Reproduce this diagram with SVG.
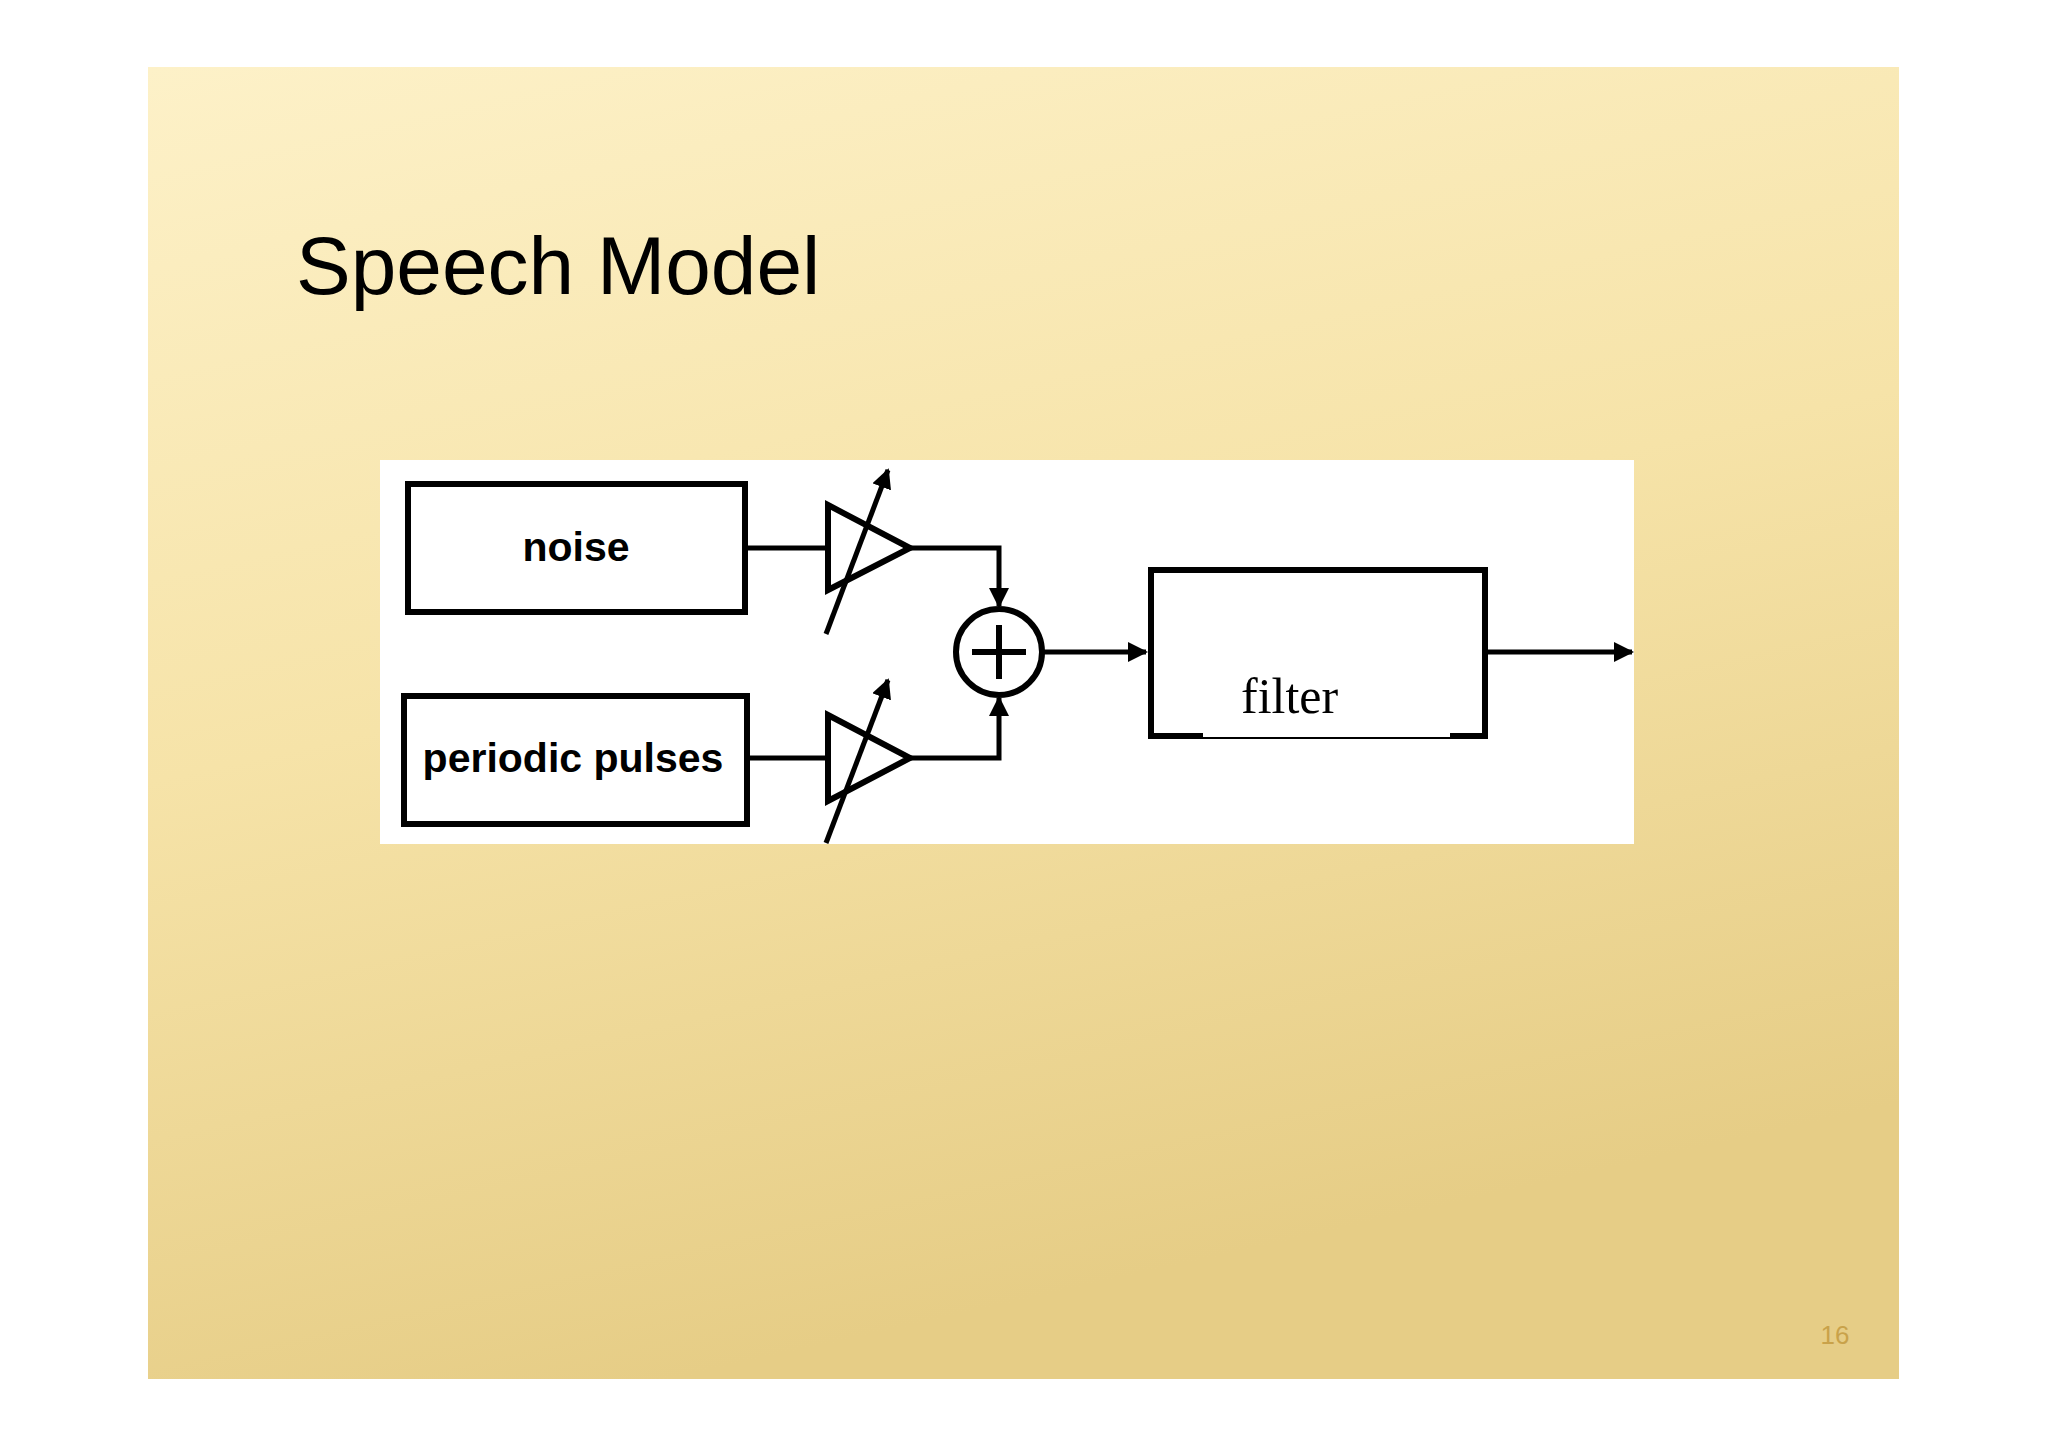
<svg xmlns="http://www.w3.org/2000/svg" width="2048" height="1447" viewBox="0 0 2048 1447">
<defs>
<linearGradient id="bg" x1="0" y1="0" x2="0.3" y2="1">
<stop offset="0" stop-color="#fdf1c8"/><stop offset="0.5" stop-color="#f6e3a8"/><stop offset="1" stop-color="#e6cd86"/>
</linearGradient>
<marker id="ah" viewBox="0 0 10 10" refX="9" refY="5" markerWidth="4" markerHeight="4" orient="auto"><path d="M0,0 L10,5 L0,10 z" fill="#000"/></marker>
</defs>
<style>
.s{fill:none;stroke:#000;stroke-width:6}
.w{fill:none;stroke:#000;stroke-width:5}
.b{font-family:"Liberation Sans",Arial,sans-serif;font-weight:bold;font-size:41px;text-anchor:middle}
</style>
<rect width="2048" height="1447" fill="#fff"/>
<rect x="148" y="67" width="1751" height="1312" fill="url(#bg)"/>
<text x="296" y="294" font-family="Liberation Sans,Arial,sans-serif" font-size="82" fill="#000">Speech Model</text>
<text x="1835" y="1344" font-family="Liberation Sans,Arial,sans-serif" font-size="26" fill="#c9a24a" text-anchor="middle">16</text>
<rect x="380" y="460" width="1254" height="384" fill="#fff"/>
<g id="noise"><rect class="s" x="408" y="484" width="337" height="128"/><text class="b" x="576" y="561">noise</text></g>
<g id="pulses"><rect class="s" x="404" y="696" width="343" height="128"/><text class="b" x="573" y="772">periodic pulses</text></g>
<g id="amp1"><path class="s" d="M828,505 L910,548 L828,590 Z"/><line class="w" x1="826" y1="634" x2="888" y2="470" marker-end="url(#ah)"/></g>
<g id="amp2"><path class="s" d="M828,715 L910,758 L828,801 Z"/><line class="w" x1="826" y1="843" x2="888" y2="680" marker-end="url(#ah)"/></g>
<g id="sum"><circle class="s" cx="999" cy="652" r="43"/><line class="s" x1="972" y1="652" x2="1026" y2="652"/><line class="s" x1="999" y1="625" x2="999" y2="679"/></g>
<g id="filter"><path class="s" d="M1203,736 L1151,736 L1151,570 L1485,570 L1485,736 L1450,736"/><line stroke="#000" stroke-width="2" x1="1203" y1="738" x2="1450" y2="738"/><text x="1241" y="713" font-family="Liberation Serif,Times New Roman,serif" font-size="50">filter</text></g>
<g id="connectors">
<line class="w" x1="745" y1="548" x2="828" y2="548"/>
<line class="w" x1="747" y1="758" x2="828" y2="758"/>
<path class="w" d="M910,548 L999,548 L999,606" marker-end="url(#ah)"/>
<path class="w" d="M910,758 L999,758 L999,698" marker-end="url(#ah)"/>
<line class="w" x1="1042" y1="652" x2="1146" y2="652" marker-end="url(#ah)"/>
<line class="w" x1="1488" y1="652" x2="1632" y2="652" marker-end="url(#ah)"/>
</g>
</svg>
